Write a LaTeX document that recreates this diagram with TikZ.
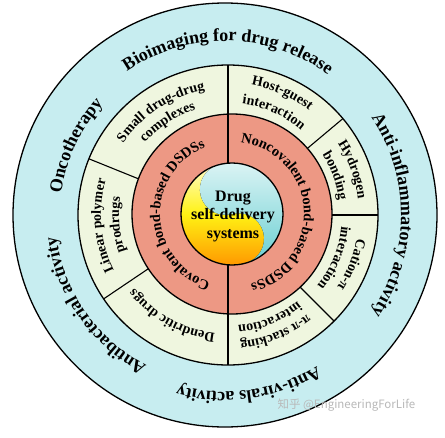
\documentclass[tikz,border=0pt]{standalone}
\usepackage{fontspec}
\setmainfont{Liberation Serif}
\newfontfamily\cjkwm{Noto Sans CJK SC}
\usetikzlibrary{decorations.text}
\definecolor{ringout}{RGB}{199,237,240}
\definecolor{ringmid}{RGB}{239,246,223}
\definecolor{ringin}{RGB}{237,152,132}
\definecolor{coreyel}{RGB}{255,242,20}
\definecolor{corecy}{RGB}{105,207,210}
\newcommand{\fouter}{\bfseries\fontsize{18}{18}\selectfont}
\newcommand{\fmid}{\bfseries\fontsize{14}{14}\selectfont}
\newcommand{\finn}{\bfseries\fontsize{14.5}{14.5}\selectfont}
\newcommand{\fcore}{\bfseries\fontsize{16}{18.5}\selectfont}
\tikzset{
  arctext/.style={decorate, decoration={text along path, text align=center, text={#1}}},
  ringline/.style={draw=black, line width=1.3pt},
  divline/.style={draw=black, line width=1.1pt},
}
\begin{document}
\begin{tikzpicture}[x=1pt,y=1pt]
\fill[white] (0,-437) rectangle (445,0);
\useasboundingbox (0,-437) rectangle (445,0);
\coordinate (O0) at (225,-215);
\coordinate (O1) at (228,-215);
\coordinate (O2) at (232,-214);
% rings
\path[fill=ringout, ringline] (O0) circle (212);
\path[fill=ringmid, ringline] (O1) circle (150);
\begin{scope}[shift={(O1)}]
  \foreach \a in {40,158,214,315,0} {
    \draw[divline] (\a:92) -- (\a:150);
  }
\end{scope}
\path[fill=ringin, ringline] (O2) circle (100);
\begin{scope}[shift={(O1)}]
  \draw[divline] (90:150) -- (270:150);
\end{scope}
% core
\begin{scope}[shift={(O2)}]
  \fill[top color=coreyel!20!white, bottom color=orange!80!yellow, middle color=coreyel] (0,0) circle (51);
  \fill[top color=corecy!20!white, bottom color=corecy] (105:51) arc[start angle=105, end angle=-75, radius=51]
     arc[start angle=-75, end angle=105, radius=25.5]
     arc[start angle=-75, end angle=-255, radius=25.5] -- cycle;
  \draw[ringline] (0,0) circle (51);
\end{scope}
\node[align=center, font=\fcore] (core) at (233,-216) {Drug\\self-delivery\\systems};
% outer texts
\begin{scope}[shift={(O0)}]
  \path[arctext={|\fouter|Bioimaging for drug release}] (149:174) arc[start angle=149, end angle=29, radius=174];
  \path[arctext={|\fouter|Anti-inflammatory activity}] (60:176) arc[start angle=60, end angle=-60, radius=176];
  \path[arctext={|\fouter|Anti-virals activity}] (-22:177) arc[start angle=-22, end angle=-142, radius=177];
  \path[arctext={|\fouter|Antibacterial activity}] (270:170) arc[start angle=270, end angle=160, radius=170];
  \path[arctext={|\fouter|Oncotherapy}] (190:165) arc[start angle=190, end angle=120, radius=165];
\end{scope}
% middle ring texts
\begin{scope}[shift={(O1)}]
  \path[arctext={|\fmid|Small drug-drug}] (163:127) arc[start angle=163, end angle=83, radius=127];
  \path[arctext={|\fmid|complexes}] (163:110) arc[start angle=163, end angle=83, radius=110];
  \path[arctext={|\fmid|Host-guest}] (106:132) arc[start angle=106, end angle=26, radius=132];
  \path[arctext={|\fmid|interaction}] (106:112) arc[start angle=106, end angle=26, radius=112];
  \path[arctext={|\fmid|Hydrogen}] (60:131) arc[start angle=60, end angle=-20, radius=131];
  \path[arctext={|\fmid|bonding}] (60:112) arc[start angle=60, end angle=-20, radius=112];
  \path[arctext={|\fmid|Cation-π}] (18:131) arc[start angle=18, end angle=-62, radius=131];
  \path[arctext={|\fmid|interaction}] (18:114) arc[start angle=18, end angle=-62, radius=114];
  \path[arctext={|\fmid|π-π stacking}] (-28:127) arc[start angle=-28, end angle=-108, radius=127];
  \path[arctext={|\fmid|interaction}] (-28:111) arc[start angle=-28, end angle=-108, radius=111];
  \path[arctext={|\fmid|Dendritic drugs}] (281:119) arc[start angle=281, end angle=201, radius=119];
  \path[arctext={|\fmid|Linear polymer}] (225:127) arc[start angle=225, end angle=145, radius=127];
  \path[arctext={|\fmid|prodrugs}] (225:109) arc[start angle=225, end angle=145, radius=109];
\end{scope}
% inner ring texts
\begin{scope}[shift={(O2)}]
  \path[arctext={|\finn|Covalent bond-based DSDSs}] (277:72) arc[start angle=277, end angle=87, radius=72];
  \path[arctext={|\finn|Noncovalent bond-based DSDSs}] (99:72) arc[start angle=99, end angle=-91, radius=72];
\end{scope}
% watermark
\node[font=\cjkwm\fontsize{11.5}{11.5}\selectfont, text=gray!55, anchor=west] (wm) at (274,-405) {知乎 @EngineeringForLife};
\end{tikzpicture}
\end{document}
